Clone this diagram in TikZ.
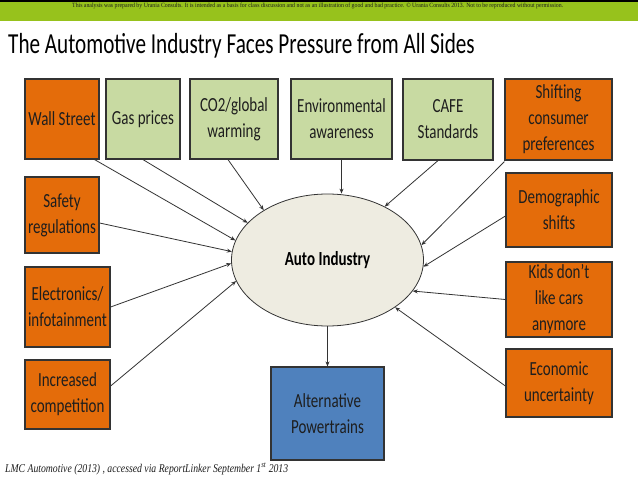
\documentclass[tikz,border=0pt]{standalone}
\usepackage{fontspec}
\usepackage{graphicx}
\setmainfont{Carlito}[FakeStretch=0.75]
\newfontfamily\ttlfont{Carlito}[FakeStretch=0.73]
\newfontfamily\serfont{Liberation Serif}
\usetikzlibrary{arrows.meta,shapes.geometric}
\definecolor{orangeF}{HTML}{E46C0A}
\definecolor{greenF}{HTML}{C8DAA2}
\definecolor{blueF}{HTML}{4F81BD}
\definecolor{ellF}{HTML}{EEECE1}
\definecolor{bannerG}{HTML}{97C21C}
\definecolor{boxline}{HTML}{333333}
\definecolor{textdark}{HTML}{1E1E1E}
\tikzset{
  box/.style={draw=boxline, line width=1.2pt, inner sep=0pt, align=center,
    font=\fontsize{20}{26}\selectfont, text=textdark},
  ob/.style={box, fill=orangeF},
  gb/.style={box, fill=greenF},
  bb/.style={box, fill=blueF},
  arr/.style={draw=boxline, line width=0.8pt, -{Stealth[length=5pt,width=4pt]}}
}
\begin{document}
\begin{tikzpicture}[x=1pt,y=-1pt]
\path[use as bounding box] (0,0) rectangle (638,479);
\fill[white] (0,0) rectangle (638,479);
% banner
\fill[bannerG] (0,2) rectangle (638,21);
\fill[black] (0,0) rectangle (638,2);
\node[anchor=base west, inner sep=0pt, text=textdark] (ban) at (72,8) {\serfont\resizebox{491pt}{4.5pt}{This analysis was prepared by Urania Consults. It is intended as a basis for class discussion and not as an illustration of good and bad practice. \textcopyright{} Urania Consults 2013. Not to be reproduced without permission.}};
% title
\node[anchor=base west, inner sep=0pt, text=black] (title) at (8,53) {\ttlfont\fontsize{29}{29}\selectfont The Automotive Industry Faces Pressure from All Sides};
% top row
\node[ob, minimum width=74pt, minimum height=80pt] (ws) at (62,119) {Wall Street};
\node[gb, minimum width=74pt, minimum height=80pt] (gas) at (143,119) {Gas prices};
\node[gb, minimum width=88pt, minimum height=80pt] (co2) at (234,119) {CO2/global\\warming};
\node[gb, minimum width=101pt, minimum height=80pt] (env) at (341.5,119) {Environmental\\awareness};
\node[gb, minimum width=90pt, minimum height=81pt] (cafe) at (448,119.5) {CAFE\\Standards};
\node[ob, minimum width=107pt, minimum height=81pt] (shift) at (558.5,119.5) {Shifting\\consumer\\preferences};
% left column
\node[ob, minimum width=74pt, minimum height=76pt] (safety) at (62,215) {Safety\\regulations};
\node[ob, minimum width=85pt, minimum height=80pt] (elec) at (67.5,307) {Electronics/\\infotainment};
\node[ob, minimum width=85pt, minimum height=69pt] (inc) at (67.5,394.5) {Increased\\competition};
% right column
\node[ob, minimum width=106pt, minimum height=74pt] (demo) at (559,210) {Demographic\\shifts};
\node[ob, minimum width=106pt, minimum height=75pt] (kids) at (559,299.5) {Kids don’t\\like cars\\anymore};
\node[ob, minimum width=106pt, minimum height=68pt] (econ) at (559,383) {Economic\\uncertainty};
% center
\node[ellipse, draw=boxline, line width=0.8pt, fill=ellF, minimum width=192pt, minimum height=132pt, inner sep=0pt, text=black, font=\fontsize{20}{24}\selectfont\bfseries] (auto) at (327.5,260) {Auto Industry};
\node[bb, minimum width=113pt, minimum height=93pt] (alt) at (327.5,413.5) {Alternative\\Powertrains};
% connectors
\draw[arr] ([xshift=-5pt]ws.south east) -- (auto.168);
\draw[arr] (gas.south) -- (auto.155.5);
\draw[arr] ([xshift=-6pt]co2.south) -- (auto.142.8);
\draw[arr] (env.south) -- (env.south |- auto.north);
\draw[arr] ([xshift=-10pt]cafe.south) -- (auto.43.3);
\draw[arr] ([yshift=-1pt]shift.south west) -- (auto.9.3);
\draw[arr] ([yshift=-8pt]safety.east) -- (auto.175.3);
\draw[arr] (elec.east) -- (auto.182.4);
\draw[arr] ([yshift=8.5pt]inc.east) -- (auto.193.2);
\draw[arr] ([yshift=-6pt]demo.west) -- (auto.-4);
\draw[arr] (kids.west) -- (auto.-20.3);
\draw[arr] ([yshift=-3pt]econ.west) -- (auto.-35.4);
\draw[arr] (auto.south) -- (alt.north);
% footer
\node[anchor=base west, inner sep=0pt, text=textdark] (src) at (5,472) {\serfont\itshape\resizebox{283pt}{9pt}{LMC Automotive (2013) , accessed via ReportLinker September 1\textsuperscript{st} 2013}};
\end{tikzpicture}
\end{document}
